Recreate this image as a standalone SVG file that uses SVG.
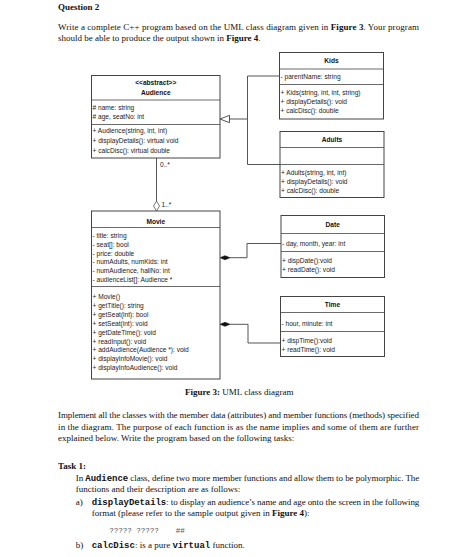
<svg xmlns="http://www.w3.org/2000/svg" width="474" height="557" viewBox="0 0 474 557">
<style>
.bg{fill:#fff}
.box{fill:#fff;stroke:#444;stroke-width:1}
.div{stroke:#444;stroke-width:0.8}
.u{font-family:"Liberation Sans",Arial,sans-serif;font-size:6.6px;fill:#222}
.ub{font-family:"Liberation Sans",Arial,sans-serif;font-size:6.6px;fill:#111;font-weight:bold;text-anchor:middle}
.t{font-family:"Liberation Serif","Times New Roman",serif;font-size:9px;fill:#111}
.b{font-weight:bold}
.m{font-family:"Liberation Mono","Courier New",monospace;font-weight:bold}
.mo{font-family:"Liberation Mono","Courier New",monospace;font-size:7.5px;fill:#555}
.ln{fill:none;stroke:#555;stroke-width:1}
</style>
<rect class="bg" width="474" height="557"/>

<text class="t b" x="58" y="9.8">Question 2</text>
<text class="t" x="58" y="29.7" textLength="361" lengthAdjust="spacing">Write a complete C++ program based on the UML class diagram given in <tspan class="b">Figure 3</tspan>. Your program</text>
<text class="t" x="58" y="40.7">should be able to produce the output shown in <tspan class="b">Figure 4</tspan>.</text>

<g id="connectors">
<path class="ln" d="M279.5,76 H247.5 V164.5 H280 M247.5,119 H229.5"/>
<polygon points="220,119 229.5,115.3 229.5,122.7" fill="#fff" stroke="#555" stroke-width="1"/>
<path class="ln" d="M156.5,158 V201"/>
<polygon points="156.5,201 159.5,206 156.5,211 153.5,206" fill="#fff" stroke="#555" stroke-width="0.8"/>
<text class="u" x="160" y="166.5">0..*</text>
<text class="u" x="161.5" y="206.5">1..*</text>
<path class="ln" d="M230,257.7 H247 V243.5 H281"/>
<polygon points="220,257.7 225,255.7 230,257.7 225,259.7" fill="#111" stroke="#111" stroke-width="0.6"/>
<path class="ln" d="M230,324.3 H248 V343 H280.5"/>
<polygon points="220,324.3 225,322.3 230,324.3 225,326.3" fill="#111" stroke="#111" stroke-width="0.6"/>
</g>

<g id="audience">
<rect class="box" x="91.5" y="75.5" width="128.5" height="82.5"/>
<line class="div" x1="91.5" y1="100" x2="220" y2="100"/>
<line class="div" x1="91.5" y1="124.5" x2="220" y2="124.5"/>
<text class="ub" x="155.75" y="85">&lt;&lt;abstract&gt;&gt;</text>
<text class="ub" x="155.75" y="94.5">Audience</text>
<text class="u" x="92.5" y="110"># name: string</text>
<text class="u" x="92.5" y="118.6"># age, seatNo: int</text>
<text class="u" x="92.5" y="133.3">+ Audience(string, int, int)</text>
<text class="u" x="92.5" y="143.3">+ displayDetails(): virtual void</text>
<text class="u" x="92.5" y="152.6">+ calcDisc(): virtual double</text>
</g>

<g id="kids">
<rect class="box" x="279.5" y="52.5" width="104" height="66.5"/>
<line class="div" x1="279.5" y1="69" x2="383.5" y2="69"/>
<line class="div" x1="279.5" y1="84.5" x2="383.5" y2="84.5"/>
<text class="ub" x="331.5" y="62.6">Kids</text>
<text class="u" x="280.5" y="78.6">- parentName: string</text>
<text class="u" x="280.5" y="94.6">+ Kids(string, int, int, string)</text>
<text class="u" x="280.5" y="104">+ displayDetails(): void</text>
<text class="u" x="280.5" y="113">+ calcDisc(): double</text>
</g>

<g id="adults">
<rect class="box" x="280" y="131.5" width="104" height="66"/>
<line class="div" x1="280" y1="147.5" x2="384" y2="147.5"/>
<line class="div" x1="280" y1="164.5" x2="384" y2="164.5"/>
<text class="ub" x="332" y="142.3">Adults</text>
<text class="u" x="281" y="174.6">+ Adults(string, int, int)</text>
<text class="u" x="281" y="183.6">+ displayDetails(): void</text>
<text class="u" x="281" y="193">+ calcDisc(): double</text>
</g>

<g id="movie">
<rect class="box" x="91.5" y="211" width="128.5" height="168"/>
<line class="div" x1="91.5" y1="227.5" x2="220" y2="227.5"/>
<line class="div" x1="91.5" y1="286.5" x2="220" y2="286.5"/>
<text class="ub" x="155.75" y="224">Movie</text>
<text class="u" x="92.5" y="238">- title: string</text>
<text class="u" x="92.5" y="247">- seat[]: bool</text>
<text class="u" x="92.5" y="256">- price: double</text>
<text class="u" x="92.5" y="264.3">- numAdults, numKids: int</text>
<text class="u" x="92.5" y="273">- numAudience, hallNo: int</text>
<text class="u" x="92.5" y="282">- audienceList[]: Audience *</text>
<text class="u" x="92.5" y="299.3">+ Movie()</text>
<text class="u" x="92.5" y="308.3">+ getTitle(): string</text>
<text class="u" x="92.5" y="317">+ getSeat(int): bool</text>
<text class="u" x="92.5" y="326.3">+ setSeat(int): void</text>
<text class="u" x="92.5" y="335">+ getDateTime(): void</text>
<text class="u" x="92.5" y="343.6">+ readInput(): void</text>
<text class="u" x="92.5" y="352.3">+ addAudience(Audience *): void</text>
<text class="u" x="92.5" y="361.3">+ displayInfoMovie(): void</text>
<text class="u" x="92.5" y="370">+ displayInfoAudience(): void</text>
</g>

<g id="date">
<rect class="box" x="281" y="215.5" width="103.5" height="62"/>
<line class="div" x1="281" y1="233.5" x2="384.5" y2="233.5"/>
<line class="div" x1="281" y1="251.5" x2="384.5" y2="251.5"/>
<text class="ub" x="332.75" y="227.3">Date</text>
<text class="u" x="282" y="245.6">- day, month, year: int</text>
<text class="u" x="282" y="262.6">+ dispDate():void</text>
<text class="u" x="282" y="271.6">+ readDate(): void</text>
</g>

<g id="time">
<rect class="box" x="280.5" y="296.5" width="104" height="60"/>
<line class="div" x1="280.5" y1="312.5" x2="384.5" y2="312.5"/>
<line class="div" x1="280.5" y1="331.5" x2="384.5" y2="331.5"/>
<text class="ub" x="332.5" y="307.3">Time</text>
<text class="u" x="281.5" y="326">- hour, minute: int</text>
<text class="u" x="281.5" y="342.6">+ dispTime():void</text>
<text class="u" x="281.5" y="351.6">+ readTime(): void</text>
</g>

<text class="t" x="185" y="394.7"><tspan class="b">Figure 3:</tspan> UML class diagram</text>
<text class="t" x="58" y="418.3" textLength="361" lengthAdjust="spacing">Implement all the classes with the member data (attributes) and member functions (methods) specified</text>
<text class="t" x="58" y="429.7" textLength="361" lengthAdjust="spacing">in the diagram. The purpose of each function is as the name implies and some of them are further</text>
<text class="t" x="58" y="441">explained below. Write the program based on the following tasks:</text>
<text class="t b" x="58" y="468.7">Task 1:</text>
<text class="t" x="75.7" y="480.7" textLength="343.6" lengthAdjust="spacing">In <tspan class="m">Audience</tspan> class, define two more member functions and allow them to be polymorphic. The</text>
<text class="t" x="75.7" y="492.3">functions and their description are as follows:</text>
<text class="t" x="75.7" y="504.7">a)</text>
<text class="t" x="91.7" y="504.7" textLength="327.6" lengthAdjust="spacing"><tspan class="m">displayDetails</tspan>: to display an audience’s name and age onto the screen in the following</text>
<text class="t" x="91.7" y="516.3">format (please refer to the sample output given in <tspan class="b">Figure 4</tspan>):</text>
<text class="mo" x="109.3" y="532.5">????? ?????</text>
<text class="mo" x="175.7" y="532.5">##</text>
<text class="t" x="75.7" y="548">b)</text>
<text class="t" x="91.7" y="548"><tspan class="m">calcDisc</tspan>: is a pure <tspan class="m">virtual</tspan> function.</text>
</svg>
